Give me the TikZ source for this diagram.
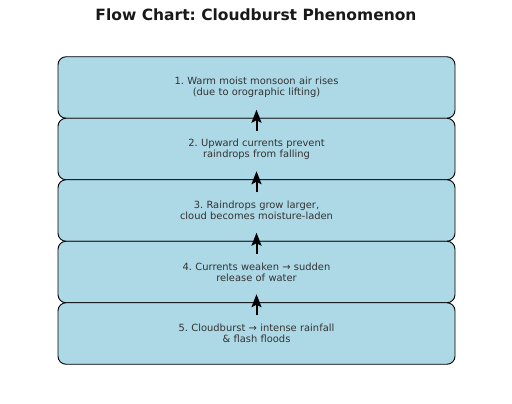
\documentclass[tikz,border=0pt]{standalone}
\usepackage{fontspec}
\setmainfont{DejaVu Sans}
\frenchspacing
\usetikzlibrary{positioning,arrows.meta}
\definecolor{boxblue}{HTML}{ADD8E6}
\definecolor{textgray}{HTML}{333333}
\tikzstyle{stepbox} = [rectangle, rounded corners=8pt, minimum width=397pt, minimum height=61.5pt, text width=380pt, align=center, fill=boxblue, draw=black, line width=0.9pt, text=textgray, font=\fontsize{9.9}{11}\selectfont]
\tikzstyle{arrow} = [-{Stealth[length=13pt,width=10pt,inset=2.5pt]}, line width=2pt]
\begin{document}
\begin{tikzpicture}[node distance=61.5pt]
  \useasboundingbox (0,0) rectangle (512pt,-404pt);
  %title
  \node[font=\fontsize{15.5}{18}\selectfont\bfseries, text=black!90] (title) at (256pt,-15pt) {Flow Chart: Cloudburst Phenomenon};
  %steps
  \node[stepbox] (rise) at (256.5pt,-87.5pt) {1. Warm moist monsoon air rises\\(due to orographic lifting)};
  \node[stepbox, below of = rise] (upward) {2. Upward currents prevent\\raindrops from falling};
  \node[stepbox, below of = upward] (grow) {3. Raindrops grow larger,\\cloud becomes moisture-laden};
  \node[stepbox, below of = grow] (weaken) {4. Currents weaken → sudden\\release of water};
  \node[stepbox, below of = weaken] (burst) {5. Cloudburst → intense rainfall\\\& flash floods};
  %arrows
  \draw [arrow] ([yshift=-13pt]upward.north) -- ([yshift=9pt]rise.south);
  \draw [arrow] ([yshift=-13pt]grow.north) -- ([yshift=9pt]upward.south);
  \draw [arrow] ([yshift=-13pt]weaken.north) -- ([yshift=9pt]grow.south);
  \draw [arrow] ([yshift=-13pt]burst.north) -- ([yshift=9pt]weaken.south);
\end{tikzpicture}
\end{document}
